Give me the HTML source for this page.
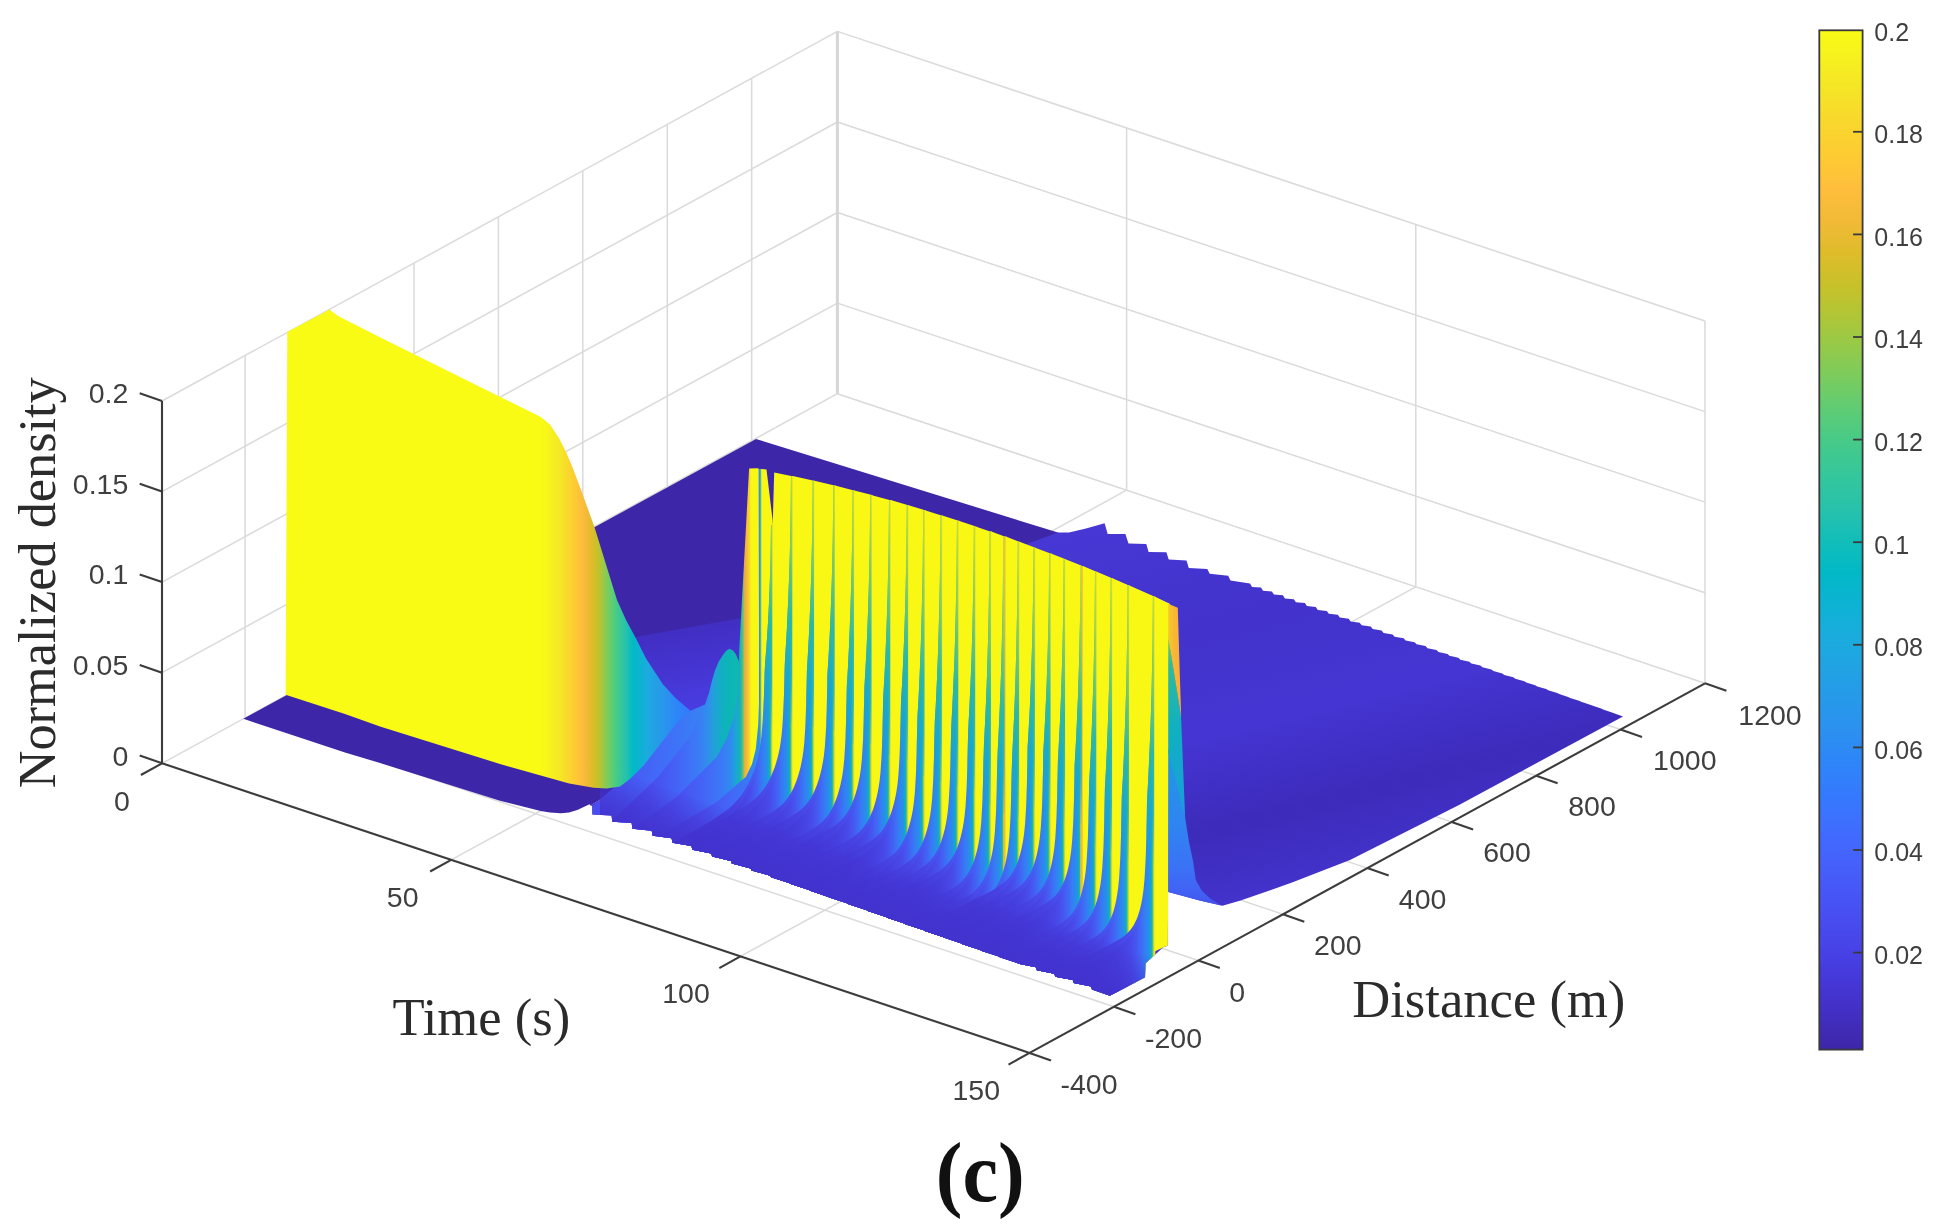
<!DOCTYPE html>
<html lang="en"><head><meta charset="utf-8"><title>Normalized density surface (c)</title>
<style>html,body{margin:0;padding:0;background:#fff}svg{display:block;filter:blur(0.45px)}</style></head>
<body>
<svg width="1948" height="1229" viewBox="0 0 1948 1229">
<defs><linearGradient id="cb" x1="0" y1="0" x2="0" y2="1"><stop offset="0%" stop-color="#f9fb15"/><stop offset="3.1%" stop-color="#f6ef20"/><stop offset="6.2%" stop-color="#f5e327"/><stop offset="9.4%" stop-color="#f9d62d"/><stop offset="12.5%" stop-color="#feca33"/><stop offset="15.6%" stop-color="#febe3c"/><stop offset="18.8%" stop-color="#f1ba37"/><stop offset="21.9%" stop-color="#debc2a"/><stop offset="25%" stop-color="#c8c129"/><stop offset="28.1%" stop-color="#afc637"/><stop offset="31.2%" stop-color="#94ca4a"/><stop offset="34.4%" stop-color="#77cc60"/><stop offset="37.5%" stop-color="#5ccc76"/><stop offset="40.6%" stop-color="#44ca8a"/><stop offset="43.8%" stop-color="#34c79c"/><stop offset="46.9%" stop-color="#28c2ab"/><stop offset="50%" stop-color="#12beb9"/><stop offset="53.1%" stop-color="#01b9c6"/><stop offset="56.2%" stop-color="#0cb3d3"/><stop offset="59.4%" stop-color="#1aacdd"/><stop offset="62.5%" stop-color="#21a3e3"/><stop offset="65.6%" stop-color="#269ae9"/><stop offset="68.8%" stop-color="#2c90f0"/><stop offset="71.9%" stop-color="#2e85f8"/><stop offset="75%" stop-color="#347afd"/><stop offset="78.1%" stop-color="#3f6efe"/><stop offset="81.2%" stop-color="#4562fc"/><stop offset="84.4%" stop-color="#4757f7"/><stop offset="87.5%" stop-color="#484cef"/><stop offset="90.6%" stop-color="#4741e5"/><stop offset="93.8%" stop-color="#4536d5"/><stop offset="96.9%" stop-color="#422ebf"/><stop offset="100%" stop-color="#3e26a8"/></linearGradient>
<linearGradient id="mid" gradientUnits="userSpaceOnUse" x1="690" y1="625" x2="705" y2="715"><stop offset="0" stop-color="#412ec2"/><stop offset="0.5" stop-color="#4535d2"/><stop offset="1" stop-color="#4a3fe6"/></linearGradient>
<linearGradient id="rg" gradientUnits="userSpaceOnUse" x1="1058" y1="532.5" x2="1155.5" y2="922.4"><stop offset="0" stop-color="#4737d4"/><stop offset="0.316" stop-color="#4333cc"/><stop offset="0.582" stop-color="#4535d2"/><stop offset="0.808" stop-color="#3d2bbb"/><stop offset="0.93" stop-color="#4030c4"/><stop offset="1" stop-color="#4333cc"/></linearGradient>
<linearGradient id="slab" gradientUnits="userSpaceOnUse" x1="287.6" y1="0" x2="700" y2="0"><stop offset="0.0000" stop-color="#f9fb15"/><stop offset="0.6145" stop-color="#f9fb15"/><stop offset="0.6298" stop-color="#f7f51b"/><stop offset="0.6452" stop-color="#f5ee21"/><stop offset="0.6605" stop-color="#f5e825"/><stop offset="0.6783" stop-color="#f8d92b"/><stop offset="0.6961" stop-color="#fdcb33"/><stop offset="0.7139" stop-color="#fdbd3d"/><stop offset="0.7256" stop-color="#f1ba37"/><stop offset="0.7373" stop-color="#e0bc2a"/><stop offset="0.7490" stop-color="#ccc028"/><stop offset="0.7574" stop-color="#b5c533"/><stop offset="0.7657" stop-color="#9cc944"/><stop offset="0.7740" stop-color="#81cc59"/><stop offset="0.7871" stop-color="#5ecd74"/><stop offset="0.8002" stop-color="#40ca8d"/><stop offset="0.8133" stop-color="#2fc5a2"/><stop offset="0.8218" stop-color="#24c1af"/><stop offset="0.8303" stop-color="#0fbebb"/><stop offset="0.8387" stop-color="#01b9c6"/><stop offset="0.8553" stop-color="#0cb3d3"/><stop offset="0.8719" stop-color="#1babde"/><stop offset="0.8885" stop-color="#22a1e4"/><stop offset="0.9050" stop-color="#269ae9"/><stop offset="0.9216" stop-color="#2b91ef"/><stop offset="0.9382" stop-color="#2d88f6"/><stop offset="0.9588" stop-color="#2f81fa"/><stop offset="0.9794" stop-color="#3579fd"/><stop offset="1" stop-color="#3d70ff"/></linearGradient>
<clipPath id="uf"><path d="M590.4 805.6 L592.2 806 L592.2 814.6 L611.5 815.5 L612.4 821.7 L631.6 823.1 L632.5 828.7 L651.7 830.7 L652.6 835.7 L671.6 838.3 L672.5 842.7 L691.5 845.9 L692.4 849.7 L711.3 853.4 L712.2 856.6 L731 860.9 L731.9 863.5 L750.7 868.4 L751.6 870.4 L770.2 875.8 L771.1 877.2 L789.7 883.2 L790.6 884 L809.1 890.1 L810 890.8 L828.4 896.9 L829.3 897.6 L847.7 903.6 L848.6 904.3 L866.9 910.3 L867.8 911 L886 917 L886.9 917.7 L905 923.7 L905.9 924.4 L923.9 930.3 L924.8 931 L942.8 936.9 L943.7 937.6 L961.6 943.5 L962.5 944.2 L980.3 950.1 L981.2 950.8 L999 956.6 L999.9 957.3 L1017.5 963.1 L1018.4 963.8 L1036 967.3 L1036.9 970.3 L1054.4 973.7 L1055.3 976.7 L1072.8 980.1 L1073.7 983.1 L1091.1 986.5 L1092 989.5 L1109.9 995.8 L1145 977.6 L1145.7 963.3 L1163.3 947.2 L1167.8 945.7 L1169 760 L1171 600 L1180 600 L1180 420 L560 420 L560 700Z"/></clipPath>
<linearGradient id="tv" gradientUnits="userSpaceOnUse" x1="0" y1="-330" x2="0" y2="-62"><stop offset="0" stop-color="#c8dc3a" stop-opacity="0.7"/><stop offset="0.3" stop-color="#86cc60" stop-opacity="0.88"/><stop offset="0.58" stop-color="#2cb8a4" stop-opacity="1"/><stop offset="0.8" stop-color="#18aac8" stop-opacity="0.75"/><stop offset="1" stop-color="#1c9edc" stop-opacity="0"/></linearGradient>
<linearGradient id="tov" gradientUnits="userSpaceOnUse" x1="-125" y1="0" x2="-9" y2="0"><stop offset="0" stop-color="#4233cf" stop-opacity="0.6"/><stop offset="0.6" stop-color="#4335d4" stop-opacity="0.55"/><stop offset="0.86" stop-color="#4438d8" stop-opacity="0.3"/><stop offset="1" stop-color="#4438d8" stop-opacity="0"/></linearGradient>
<linearGradient id="tg" gradientUnits="userSpaceOnUse" x1="-125" y1="0" x2="1.6" y2="0"><stop offset="0.0000" stop-color="#4334d2"/><stop offset="0.5134" stop-color="#4438d8"/><stop offset="0.7030" stop-color="#4742e2"/><stop offset="0.8136" stop-color="#4952f0"/><stop offset="0.8689" stop-color="#4366f8"/><stop offset="0.9005" stop-color="#3a76f6"/><stop offset="0.9321" stop-color="#2e86f0"/><stop offset="0.9518" stop-color="#2592e8"/><stop offset="0.9629" stop-color="#16a4d0"/><stop offset="0.9708" stop-color="#12b2b6"/><stop offset="0.9779" stop-color="#45c088"/><stop offset="0.9842" stop-color="#a8d048"/><stop offset="0.9921" stop-color="#ecdf25"/><stop offset="1.0000" stop-color="#f9f814"/></linearGradient>
<linearGradient id="tgo" gradientUnits="userSpaceOnUse" x1="-125" y1="0" x2="2.4" y2="0"><stop offset="0.0000" stop-color="#4334d2"/><stop offset="0.5102" stop-color="#4438d8"/><stop offset="0.6986" stop-color="#4742e2"/><stop offset="0.8085" stop-color="#4952f0"/><stop offset="0.8634" stop-color="#4366f8"/><stop offset="0.8948" stop-color="#3a76f6"/><stop offset="0.9262" stop-color="#2e86f0"/><stop offset="0.9458" stop-color="#2592e8"/><stop offset="0.9568" stop-color="#16a4d0"/><stop offset="0.9647" stop-color="#12b2b6"/><stop offset="0.9717" stop-color="#45c088"/><stop offset="0.9686" stop-color="#90c860"/><stop offset="0.9788" stop-color="#e8b840"/><stop offset="0.9882" stop-color="#f4c030"/><stop offset="1.0000" stop-color="#f9f814"/></linearGradient>
<linearGradient id="ga" gradientUnits="userSpaceOnUse" x1="600" y1="0" x2="706" y2="0"><stop offset="0.0000" stop-color="#4a4cee"/><stop offset="0.3774" stop-color="#4560f6"/><stop offset="0.6604" stop-color="#3f70f8"/><stop offset="0.8679" stop-color="#3a7cf6"/><stop offset="1.0000" stop-color="#3585f2"/></linearGradient>
<linearGradient id="gb" gradientUnits="userSpaceOnUse" x1="611" y1="0" x2="742" y2="0"><stop offset="0.0000" stop-color="#4538d8"/><stop offset="0.2977" stop-color="#4a4cee"/><stop offset="0.5267" stop-color="#4366f8"/><stop offset="0.6565" stop-color="#3b7af6"/><stop offset="0.7252" stop-color="#3389f0"/><stop offset="0.7863" stop-color="#22a0da"/><stop offset="0.8473" stop-color="#10b0c0"/><stop offset="0.9084" stop-color="#0cb6b6"/><stop offset="1.0000" stop-color="#12b6b0"/></linearGradient>
<linearGradient id="gc" gradientUnits="userSpaceOnUse" x1="631" y1="0" x2="751" y2="0"><stop offset="0.0000" stop-color="#4538d8"/><stop offset="0.3667" stop-color="#4a4cee"/><stop offset="0.6167" stop-color="#4366f8"/><stop offset="0.7583" stop-color="#3b7af6"/><stop offset="0.8333" stop-color="#2e8cee"/><stop offset="0.8750" stop-color="#1ca6d6"/><stop offset="0.9083" stop-color="#14b2b4"/><stop offset="0.9292" stop-color="#50c080"/><stop offset="0.9458" stop-color="#e0b040"/><stop offset="0.9625" stop-color="#f8b836"/><stop offset="0.9875" stop-color="#f4d828"/><stop offset="1.0000" stop-color="#f9f814"/></linearGradient>
<linearGradient id="gd" gradientUnits="userSpaceOnUse" x1="652" y1="0" x2="761.8" y2="0"><stop offset="0.0000" stop-color="#4538d8"/><stop offset="0.4372" stop-color="#4a4cee"/><stop offset="0.7104" stop-color="#4366f8"/><stop offset="0.8743" stop-color="#3878f6"/><stop offset="0.9381" stop-color="#2e8cee"/><stop offset="0.9772" stop-color="#2a90ec"/><stop offset="0.9891" stop-color="#58b8a0"/><stop offset="1.0000" stop-color="#f9f814"/></linearGradient>
<linearGradient id="fd" gradientUnits="userSpaceOnUse" x1="817.2" y1="838.2" x2="800" y2="887.3"><stop offset="0" stop-color="#4233cf" stop-opacity="0"/><stop offset="0.55" stop-color="#4233cf" stop-opacity="0.55"/><stop offset="1" stop-color="#4232cd" stop-opacity="0.9"/></linearGradient>
<linearGradient id="wo" gradientUnits="userSpaceOnUse" x1="1168" y1="0" x2="1179" y2="0"><stop offset="0" stop-color="#f5cc2a"/><stop offset="0.5" stop-color="#f8b832"/><stop offset="1" stop-color="#f9b034"/></linearGradient>
<linearGradient id="wt" gradientUnits="userSpaceOnUse" x1="0" y1="638" x2="0" y2="818"><stop offset="0" stop-color="#86ca5c"/><stop offset="0.14" stop-color="#34b99c"/><stop offset="0.5" stop-color="#10b0c0"/><stop offset="0.8" stop-color="#16a4d2"/><stop offset="1" stop-color="#1e9ae0"/></linearGradient>
<linearGradient id="wb" gradientUnits="userSpaceOnUse" x1="0" y1="751" x2="0" y2="906"><stop offset="0" stop-color="#2098e2"/><stop offset="0.45" stop-color="#2e86f0"/><stop offset="0.75" stop-color="#3b72f6"/><stop offset="0.92" stop-color="#4260f4"/><stop offset="1" stop-color="#4550ea"/></linearGradient></defs>
<rect width="1948" height="1229" fill="#fff"/>
<g stroke="#dadada" stroke-width="1.5" fill="none"><line x1="245.1" y1="717.7" x2="245.1" y2="355.4"/><line x1="329.6" y1="671.5" x2="329.6" y2="309.2"/><line x1="414" y1="625.3" x2="414" y2="263"/><line x1="498.4" y1="579.1" x2="498.4" y2="216.8"/><line x1="582.8" y1="532.9" x2="582.8" y2="170.6"/><line x1="667.3" y1="486.7" x2="667.3" y2="124.4"/><line x1="751.7" y1="440.5" x2="751.7" y2="78.2"/><line x1="162" y1="763.3" x2="837.4" y2="393.7"/><line x1="162" y1="672.7" x2="837.4" y2="303.1"/><line x1="162" y1="582.1" x2="837.4" y2="212.5"/><line x1="162" y1="491.6" x2="837.4" y2="122"/><line x1="162" y1="401" x2="837.4" y2="31.4"/><line x1="1126.6" y1="490.2" x2="1126.6" y2="127.9"/><line x1="1415.8" y1="586.8" x2="1415.8" y2="224.5"/><line x1="1705" y1="683.3" x2="1705" y2="321"/><line x1="837.4" y1="393.7" x2="1705" y2="683.3"/><line x1="837.4" y1="303.1" x2="1705" y2="592.7"/><line x1="837.4" y1="212.5" x2="1705" y2="502.1"/><line x1="837.4" y1="122" x2="1705" y2="411.6"/><line x1="837.4" y1="31.4" x2="1705" y2="321"/><line x1="246.4" y1="717.1" x2="1114" y2="1006.7"/><line x1="330.9" y1="670.9" x2="1198.4" y2="960.5"/><line x1="415.3" y1="624.7" x2="1282.9" y2="914.3"/><line x1="499.7" y1="578.5" x2="1367.3" y2="868.1"/><line x1="584.1" y1="532.3" x2="1451.7" y2="821.9"/><line x1="668.6" y1="486.1" x2="1536.2" y2="775.7"/><line x1="753" y1="439.9" x2="1620.6" y2="729.5"/><line x1="451.2" y1="859.8" x2="1126.6" y2="490.2"/><line x1="740.4" y1="956.4" x2="1415.8" y2="586.8"/></g>
<line x1="837.4" y1="393.7" x2="837.4" y2="31.4" stroke="#d6d6d6" stroke-width="3"/>
<path d="M243.3 718.8 L756 439 L1058 532.5 L1069 545 L1069 700 L800 800 L622.7 786 L590.4 805.6 L589.5 804.3 L577.3 810 L569 812.4 L561 813.3 L550 812.6 L540.7 810.9 L500 800.7 L380 763 L345 752.5Z" fill="#3e26a8"/>
<path d="M633 637.6 L739.8 618.2 L760 640 L760 760 L690 760 L640 700Z" fill="url(#mid)"/>
<path d="M1024 545 L1058 532.5 L1069 532.5 L1086 528.5 L1104.6 523.3 L1107.7 534.1 L1125.4 534.1 L1128.5 543.4 L1146.3 544.1 L1148.6 551.9 L1166.4 552.3 L1168.7 559.6 L1186.5 560.4 L1188.8 568.1 L1207.3 568.9 L1209.7 573.7 L1228.2 575.8 L1230.5 580.5 L1250 583.6 L1252 586.9 L1261 587.5 L1263 590.7 L1271.9 591.4 L1273.9 594.6 L1282.9 595.3 L1284.9 598.4 L1293.9 599.2 L1295.9 602.2 L1304.9 603.1 L1306.9 606 L1315.8 607 L1317.8 609.9 L1326.8 610.9 L1328.8 613.7 L1337.8 614.8 L1339.8 617.5 L1348.7 618.8 L1350.7 621.4 L1359.7 622.7 L1361.7 625.2 L1370.7 626.6 L1372.7 629 L1381.6 630.5 L1383.6 632.9 L1392.6 634.4 L1394.6 636.7 L1403.6 638.3 L1405.6 640.5 L1414.6 642.2 L1416.6 644.3 L1425.5 646.1 L1427.5 648.2 L1436.5 650 L1438.5 652 L1447.5 653.9 L1449.5 655.8 L1458.4 657.8 L1460.4 659.7 L1469.4 661.7 L1471.4 663.5 L1480.4 665.6 L1482.4 667.3 L1491.4 669.5 L1493.4 671.1 L1502.3 673.4 L1504.3 675 L1513.3 677.3 L1515.3 678.8 L1524.3 681.2 L1526.3 682.6 L1535.2 685.2 L1537.2 686.5 L1546.2 689.1 L1548.2 690.3 L1557.2 693 L1559.2 694.1 L1568.1 696.9 L1570.1 698 L1579.1 700.8 L1581.1 701.8 L1590.1 704.7 L1592.1 705.6 L1601.1 708.6 L1603.1 709.4 L1612 712.5 L1614 713.3 L1623 716.4 L1459 805 L1350 860 L1292.7 882.3 L1271 890 L1240.6 900.5 L1222.4 905.7 L1199.7 900.5 L1168.4 892 L1168.4 700 L1169.8 608.5 L1169.8 604.1 L1145.8 593.2 L1121.8 582.8 L1097.8 572.7 L1073.8 562.9 L1049.8 553.6 L1025.8 544.6Z" fill="url(#rg)"/>
<g clip-path="url(#uf)"><path d="M590.4 805.6 L622.7 786 L643.7 765.6 L664.3 739 L680.7 718.4 L690.3 710.7 L705 704.5 L745 700 L1168.4 892 L1168 960 L1110 1000 L592 830Z" fill="#4334d2"/><path d="M592.2 806 L628.8 775 L658 740 L677.7 716 L690.3 710.7 L705 704.5 L720 760 L700 900 L596 900Z" fill="url(#ga)"/><path d="M611 822 L658 777 L689 738 L700 716 L705 704.5 L709 692.7 L711.6 682 L714.8 671 L718.5 662 L722.6 655.6 L726 651 L729.4 648.8 L733 650.5 L736 654.6 L739 661.5 L742 668 L746 700 L746 900 L611 900Z" fill="url(#gb)"/><path d="M631.8 830 L677.7 796 L716.7 757 L727 738 L734.3 716 L737.3 695 L738.6 672 L739.2 650 L740.3 630 L744.8 548 L749.1 468.6 L757.6 468.3 L759 469 L759 900 L631.8 900Z" fill="url(#gc)"/><path d="M652 840 L716.7 802 L746 776.7 L752 764 L755.8 749 L758.2 725 L759.2 698 L758.9 600 L758.6 468.8 L761.8 468.9 L766.5 469.4 L768.5 486 L772.6 520 L773.6 540 L773.6 900 L652 900Z" fill="url(#gd)"/><g transform="translate(771.80,799.4)"><path d="M-0.8 -274.4 L-1.2 -245.5 L-1.9 -220.5 L-2.7 -198.9 L-3.6 -180.2 L-4.6 -164 L-5.6 -149.9 L-6.6 -137.6 L-7.2 -126.9 L-7.4 -117.6 L-7.7 -109.4 L-7.9 -102.2 L-8.2 -95.9 L-9.2 -77.1 L-10.2 -64.9 L-11.2 -56.4 L-12.2 -50.1 L-13.2 -45.1 L-14.2 -40.8 L-15.2 -37.1 L-16.2 -33.7 L-17.2 -30.7 L-20.2 -22.7 L-23.2 -16.1 L-26.2 -10.6 L-29.2 -5.9 L-32.2 -1.9 L-35.2 1.7 L-38.2 4.8 L-41.2 7.6 L-44.2 10.1 L-47.2 12.4 L-59.2 20.5 L-71.2 27.5 L-83.2 34.1 L-95.2 40.5 L-107.2 46.9 L-119.2 53.3 L-131.2 59.6 L-143.2 65.9 L-155.2 72.3 L-150 260 L1.6 260 L1.6 -274.4Z" fill="url(#tg)"/><path d="M-0.8 -274.4 L-1.2 -245.5 L-1.9 -220.5 L-2.7 -198.9 L-3.6 -180.2 L-4.6 -164 L-5.6 -149.9 L-6.6 -137.6 L-7.2 -126.9 L-7.4 -117.6 L-7.7 -109.4 L-7.9 -102.2 L-8.2 -95.9 L-9.2 -77.1 L-10.2 -64.9 L0.5 -64.9 L0.5 -274.4Z" fill="url(#tv)"/><path d="M-9 -33.6 L-9.2 -73.6 L-10.2 -61.2 L-11.2 -52.6 L-12.2 -46.2 L-13.2 -41 L-14.2 -36.6 L-15.2 -32.7 L-16.2 -29.1 L-17.2 -25.9 L-20.2 -17.4 L-23.2 -10.4 L-26.2 -4.4 L-29.2 0.8 L-32.2 5.3 L-35.2 9.3 L-38.2 12.9 L-41.2 16.2 L-44.2 19.1 L-47.2 21.4 L-59.2 29.5 L-71.2 36.5 L-83.2 43.1 L-95.2 49.5 L-107.2 55.9 L-119.2 62.3 L-131.2 68.6 L-143.2 74.9 L-155.2 81.3 L-150 260 L-9 260Z" fill="url(#tov)"/><path d="M0.9 -274.4 L2.4 -326.9 L19.5 -323.5 L19.5 260 L0.9 260Z" fill="#f9f814"/></g><g transform="translate(791.80,793)"><path d="M-0.8 -317.1 L-1.3 -276.2 L-1.9 -241.8 L-2.8 -213 L-3.8 -188.6 L-4.7 -168 L-5.7 -150.7 L-6.7 -135.9 L-7.2 -123.4 L-7.4 -112.8 L-7.7 -103.6 L-7.9 -95.8 L-8.2 -89.1 L-9.2 -69.8 L-10.2 -58.1 L-11.2 -50.2 L-12.2 -44.3 L-13.2 -39.6 L-14.2 -35.5 L-15.2 -31.9 L-16.2 -28.6 L-17.2 -25.6 L-20.2 -17.9 L-23.2 -11.7 L-26.2 -6.6 L-29.2 -2.3 L-32.2 1.3 L-35.2 4.4 L-38.2 7.1 L-41.2 9.5 L-44.2 11.7 L-47.2 13.7 L-59.2 20.8 L-71.2 27.1 L-83.2 33.2 L-95.2 39.1 L-107.2 45 L-119.2 50.9 L-131.2 56.8 L-143.2 62.7 L-155.2 68.6 L-150 260 L1.6 260 L1.6 -317.1Z" fill="url(#tg)"/><path d="M-0.8 -317.1 L-1.3 -276.2 L-1.9 -241.8 L-2.8 -213 L-3.8 -188.6 L-4.7 -168 L-5.7 -150.7 L-6.7 -135.9 L-7.2 -123.4 L-7.4 -112.8 L-7.7 -103.6 L-7.9 -95.8 L-8.2 -89.1 L-9.2 -69.8 L0.5 -69.8 L0.5 -317.1Z" fill="url(#tv)"/><path d="M-9 -26.4 L-9.2 -66.4 L-10.2 -54.5 L-11.2 -46.4 L-12.2 -40.4 L-13.2 -35.5 L-14.2 -31.2 L-15.2 -27.5 L-16.2 -24 L-17.2 -20.9 L-20.2 -12.7 L-23.2 -6 L-26.2 -0.4 L-29.2 4.3 L-32.2 8.4 L-35.2 12 L-38.2 15.2 L-41.2 18.1 L-44.2 20.7 L-47.2 22.7 L-59.2 29.8 L-71.2 36.1 L-83.2 42.2 L-95.2 48.1 L-107.2 54 L-119.2 59.9 L-131.2 65.8 L-143.2 71.7 L-155.2 77.6 L-150 260 L-9 260Z" fill="url(#tov)"/><path d="M0.9 -317.1 L22.2 -312.2 L22.2 260 L0.9 260Z" fill="#f9f814"/></g><g transform="translate(813.50,800.6)"><path d="M-0.8 -319.9 L-1.3 -269 L-2.2 -228.1 L-3.3 -195.1 L-4.4 -168.5 L-5.6 -146.9 L-6.6 -129.4 L-6.9 -115.1 L-7.2 -103.4 L-7.4 -93.8 L-7.7 -85.8 L-7.9 -79.1 L-8.2 -73.5 L-9.2 -58.1 L-10.2 -48.8 L-11.2 -42.3 L-12.2 -37.1 L-13.2 -32.7 L-14.2 -28.9 L-15.2 -25.4 L-16.2 -22.3 L-17.2 -19.4 L-20.2 -12.1 L-23.2 -6.5 L-26.2 -2 L-29.2 1.6 L-32.2 4.7 L-35.2 7.2 L-38.2 9.5 L-41.2 11.5 L-44.2 13.3 L-47.2 15 L-59.2 21 L-71.2 26.6 L-83.2 32.1 L-95.2 37.5 L-107.2 42.9 L-119.2 48.3 L-131.2 53.7 L-143.2 59.1 L-155.2 64.5 L-150 260 L1.6 260 L1.6 -319.9Z" fill="url(#tg)"/><path d="M-0.8 -319.9 L-1.3 -269 L-2.2 -228.1 L-3.3 -195.1 L-4.4 -168.5 L-5.6 -146.9 L-6.6 -129.4 L-6.9 -115.1 L-7.2 -103.4 L-7.4 -93.8 L-7.7 -85.8 L-7.9 -79.1 L-8.2 -73.5 L0.5 -73.5 L0.5 -319.9Z" fill="url(#tv)"/><path d="M-9 -14.6 L-9.2 -54.6 L-10.2 -45.2 L-11.2 -38.5 L-12.2 -33.2 L-13.2 -28.6 L-14.2 -24.6 L-15.2 -21 L-16.2 -17.7 L-17.2 -14.6 L-20.2 -6.9 L-23.2 -0.8 L-26.2 4.2 L-29.2 8.3 L-32.2 11.8 L-35.2 14.9 L-38.2 17.6 L-41.2 20.1 L-44.2 22.3 L-47.2 24 L-59.2 30 L-71.2 35.6 L-83.2 41.1 L-95.2 46.5 L-107.2 51.9 L-119.2 57.3 L-131.2 62.7 L-143.2 68.1 L-155.2 73.5 L-150 260 L-9 260Z" fill="url(#tov)"/><path d="M0.9 -319.9 L21 -315 L21 260 L0.9 260Z" fill="#f9f814"/></g><g transform="translate(834.10,803.8)"><path d="M-0.8 -318.2 L-1.3 -267.6 L-2.2 -226.9 L-3.3 -194.1 L-4.4 -167.7 L-5.6 -146.2 L-6.7 -128.8 L-6.9 -114.5 L-7.2 -102.9 L-7.4 -93.3 L-7.7 -85.3 L-7.9 -78.6 L-8.2 -73 L-9.2 -57.6 L-10.2 -48.3 L-11.2 -41.7 L-12.2 -36.6 L-13.2 -32.2 L-14.2 -28.3 L-15.2 -24.8 L-16.2 -21.7 L-17.2 -18.8 L-20.2 -11.6 L-23.2 -6 L-26.2 -1.6 L-29.2 2 L-32.2 5 L-35.2 7.5 L-38.2 9.7 L-41.2 11.7 L-44.2 13.5 L-47.2 15.2 L-59.2 21.2 L-71.2 26.8 L-83.2 32.3 L-95.2 37.8 L-107.2 43.2 L-119.2 48.6 L-131.2 54.1 L-143.2 59.5 L-155.2 65 L-150 260 L1.6 260 L1.6 -318.2Z" fill="url(#tg)"/><path d="M-0.8 -318.2 L-1.3 -267.6 L-2.2 -226.9 L-3.3 -194.1 L-4.4 -167.7 L-5.6 -146.2 L-6.7 -128.8 L-6.9 -114.5 L-7.2 -102.9 L-7.4 -93.3 L-7.7 -85.3 L-7.9 -78.6 L-8.2 -73 L0.5 -73 L0.5 -318.2Z" fill="url(#tv)"/><path d="M-9 -14.1 L-9.2 -54.1 L-10.2 -44.7 L-11.2 -38 L-12.2 -32.6 L-13.2 -28.1 L-14.2 -24 L-15.2 -20.4 L-16.2 -17.1 L-17.2 -14.1 L-20.2 -6.4 L-23.2 -0.3 L-26.2 4.6 L-29.2 8.7 L-32.2 12.1 L-35.2 15.1 L-38.2 17.8 L-41.2 20.3 L-44.2 22.5 L-47.2 24.2 L-59.2 30.2 L-71.2 35.8 L-83.2 41.3 L-95.2 46.8 L-107.2 52.2 L-119.2 57.6 L-131.2 63.1 L-143.2 68.5 L-155.2 74 L-150 260 L-9 260Z" fill="url(#tov)"/><path d="M0.9 -318.2 L19.8 -313.3 L19.8 260 L0.9 260Z" fill="#f9f814"/></g><g transform="translate(853.40,817.4)"><path d="M-0.8 -327 L-1.3 -274.6 L-2.2 -232.5 L-3.3 -198.5 L-4.4 -171.1 L-5.5 -148.9 L-6.6 -130.8 L-6.9 -116.1 L-7.2 -104.1 L-7.4 -94.1 L-7.7 -85.9 L-7.9 -79 L-8.2 -73.3 L-9.2 -57.4 L-10.2 -47.9 L-11.2 -41.3 L-12.2 -36.1 L-13.2 -31.6 L-14.2 -27.8 L-15.2 -24.3 L-16.2 -21.1 L-17.2 -18.3 L-20.2 -11.1 L-23.2 -5.6 L-26.2 -1.2 L-29.2 2.4 L-32.2 5.3 L-35.2 7.8 L-38.2 10 L-41.2 11.9 L-44.2 13.7 L-47.2 15.4 L-59.2 21.4 L-71.2 27 L-83.2 32.5 L-95.2 38 L-107.2 43.5 L-119.2 49 L-131.2 54.4 L-143.2 59.9 L-155.2 65.4 L-150 260 L1.6 260 L1.6 -327Z" fill="url(#tg)"/><path d="M-0.8 -327 L-1.3 -274.6 L-2.2 -232.5 L-3.3 -198.5 L-4.4 -171.1 L-5.5 -148.9 L-6.6 -130.8 L-6.9 -116.1 L-7.2 -104.1 L-7.4 -94.1 L-7.7 -85.9 L-7.9 -79 L-8.2 -73.3 L0.5 -73.3 L0.5 -327Z" fill="url(#tv)"/><path d="M-9 -13.9 L-9.2 -53.9 L-10.2 -44.3 L-11.2 -37.5 L-12.2 -32.1 L-13.2 -27.5 L-14.2 -23.5 L-15.2 -19.9 L-16.2 -16.5 L-17.2 -13.5 L-20.2 -5.9 L-23.2 0.1 L-26.2 5 L-29.2 9 L-32.2 12.4 L-35.2 15.4 L-38.2 18.1 L-41.2 20.5 L-44.2 22.7 L-47.2 24.4 L-59.2 30.4 L-71.2 36 L-83.2 41.5 L-95.2 47 L-107.2 52.5 L-119.2 58 L-131.2 63.4 L-143.2 68.9 L-155.2 74.4 L-150 260 L-9 260Z" fill="url(#tov)"/><path d="M0.9 -327 L18.7 -322.3 L18.7 260 L0.9 260Z" fill="#f9f814"/></g><g transform="translate(871.00,816.7)"><path d="M-0.8 -321.5 L-1.3 -270.2 L-2.2 -228.9 L-3.3 -195.6 L-4.4 -168.7 L-5.6 -147 L-6.6 -129.2 L-6.9 -114.8 L-7.2 -102.9 L-7.4 -93.2 L-7.7 -85 L-7.9 -78.3 L-8.2 -72.6 L-9.2 -56.9 L-10.2 -47.4 L-11.2 -40.8 L-12.2 -35.6 L-13.2 -31.1 L-14.2 -27.2 L-15.2 -23.8 L-16.2 -20.6 L-17.2 -17.8 L-20.2 -10.6 L-23.2 -5.1 L-26.2 -0.8 L-29.2 2.7 L-32.2 5.6 L-35.2 8 L-38.2 10.2 L-41.2 12.1 L-44.2 13.9 L-47.2 15.5 L-59.2 21.6 L-71.2 27.2 L-83.2 32.8 L-95.2 38.3 L-107.2 43.8 L-119.2 49.3 L-131.2 54.8 L-143.2 60.3 L-155.2 65.8 L-150 260 L1.6 260 L1.6 -321.5Z" fill="url(#tg)"/><path d="M-0.8 -321.5 L-1.3 -270.2 L-2.2 -228.9 L-3.3 -195.6 L-4.4 -168.7 L-5.6 -147 L-6.6 -129.2 L-6.9 -114.8 L-7.2 -102.9 L-7.4 -93.2 L-7.7 -85 L-7.9 -78.3 L-8.2 -72.6 L0.5 -72.6 L0.5 -321.5Z" fill="url(#tv)"/><path d="M-9 -13.4 L-9.2 -53.4 L-10.2 -43.8 L-11.2 -37 L-12.2 -31.6 L-13.2 -27 L-14.2 -23 L-15.2 -19.3 L-16.2 -16 L-17.2 -13 L-20.2 -5.4 L-23.2 0.6 L-26.2 5.4 L-29.2 9.3 L-32.2 12.7 L-35.2 15.7 L-38.2 18.3 L-41.2 20.7 L-44.2 22.9 L-47.2 24.5 L-59.2 30.6 L-71.2 36.2 L-83.2 41.8 L-95.2 47.3 L-107.2 52.8 L-119.2 58.3 L-131.2 63.8 L-143.2 69.3 L-155.2 74.8 L-150 260 L-9 260Z" fill="url(#tov)"/><path d="M0.9 -321.5 L18.5 -316.6 L18.5 260 L0.9 260Z" fill="#f9f814"/></g><g transform="translate(889.80,827.8)"><path d="M-0.8 -327.8 L-1.3 -275.1 L-2.2 -232.8 L-3.3 -198.7 L-4.4 -171.1 L-5.5 -148.8 L-6.6 -130.6 L-6.9 -115.8 L-7.2 -103.7 L-7.4 -93.7 L-7.7 -85.4 L-7.9 -78.5 L-8.2 -72.6 L-9.2 -56.6 L-10.2 -47 L-11.2 -40.3 L-12.2 -35.1 L-13.2 -30.6 L-14.2 -26.7 L-15.2 -23.2 L-16.2 -20.1 L-17.2 -17.3 L-20.2 -10.2 L-23.2 -4.7 L-26.2 -0.5 L-29.2 3 L-32.2 5.8 L-35.2 8.3 L-38.2 10.4 L-41.2 12.3 L-44.2 14.1 L-47.2 15.7 L-59.2 21.7 L-71.2 27.4 L-83.2 33 L-95.2 38.5 L-107.2 44 L-119.2 49.6 L-131.2 55.1 L-143.2 60.6 L-155.2 66.2 L-150 260 L1.6 260 L1.6 -327.8Z" fill="url(#tg)"/><path d="M-0.8 -327.8 L-1.3 -275.1 L-2.2 -232.8 L-3.3 -198.7 L-4.4 -171.1 L-5.5 -148.8 L-6.6 -130.6 L-6.9 -115.8 L-7.2 -103.7 L-7.4 -93.7 L-7.7 -85.4 L-7.9 -78.5 L-8.2 -72.6 L0.5 -72.6 L0.5 -327.8Z" fill="url(#tv)"/><path d="M-9 -13.2 L-9.2 -53.2 L-10.2 -43.4 L-11.2 -36.5 L-12.2 -31.1 L-13.2 -26.5 L-14.2 -22.4 L-15.2 -18.8 L-16.2 -15.5 L-17.2 -12.5 L-20.2 -4.9 L-23.2 1 L-26.2 5.7 L-29.2 9.7 L-32.2 13 L-35.2 15.9 L-38.2 18.5 L-41.2 20.9 L-44.2 23.1 L-47.2 24.7 L-59.2 30.7 L-71.2 36.4 L-83.2 42 L-95.2 47.5 L-107.2 53 L-119.2 58.6 L-131.2 64.1 L-143.2 69.6 L-155.2 75.2 L-150 260 L-9 260Z" fill="url(#tov)"/><path d="M0.9 -327.8 L18.5 -322.6 L18.5 260 L0.9 260Z" fill="#f9f814"/></g><g transform="translate(907.60,831.5)"><path d="M-0.8 -326.3 L-1.3 -273.9 L-2.2 -231.8 L-3.3 -197.8 L-4.4 -170.4 L-5.5 -148.1 L-6.6 -130.1 L-6.9 -115.3 L-7.2 -103.2 L-7.4 -93.2 L-7.7 -84.9 L-7.9 -78 L-8.2 -72.2 L-9.2 -56.2 L-10.2 -46.6 L-11.2 -39.8 L-12.2 -34.5 L-13.2 -30.1 L-14.2 -26.2 L-15.2 -22.7 L-16.2 -19.6 L-17.2 -16.7 L-20.2 -9.7 L-23.2 -4.3 L-26.2 -0.1 L-29.2 3.3 L-32.2 6.1 L-35.2 8.5 L-38.2 10.6 L-41.2 12.5 L-44.2 14.2 L-47.2 15.9 L-59.2 21.9 L-71.2 27.6 L-83.2 33.2 L-95.2 38.7 L-107.2 44.3 L-119.2 49.9 L-131.2 55.4 L-143.2 61 L-155.2 66.6 L-150 260 L1.6 260 L1.6 -326.3Z" fill="url(#tg)"/><path d="M-0.8 -326.3 L-1.3 -273.9 L-2.2 -231.8 L-3.3 -197.8 L-4.4 -170.4 L-5.5 -148.1 L-6.6 -130.1 L-6.9 -115.3 L-7.2 -103.2 L-7.4 -93.2 L-7.7 -84.9 L-7.9 -78 L-8.2 -72.2 L0.5 -72.2 L0.5 -326.3Z" fill="url(#tv)"/><path d="M-9 -12.7 L-9.2 -52.7 L-10.2 -42.9 L-11.2 -36 L-12.2 -30.6 L-13.2 -26 L-14.2 -21.9 L-15.2 -18.3 L-16.2 -15 L-17.2 -12 L-20.2 -4.5 L-23.2 1.4 L-26.2 6.1 L-29.2 10 L-32.2 13.3 L-35.2 16.1 L-38.2 18.7 L-41.2 21.1 L-44.2 23.2 L-47.2 24.9 L-59.2 30.9 L-71.2 36.6 L-83.2 42.2 L-95.2 47.7 L-107.2 53.3 L-119.2 58.9 L-131.2 64.4 L-143.2 70 L-155.2 75.6 L-150 260 L-9 260Z" fill="url(#tov)"/><path d="M0.9 -326.3 L17.5 -321.3 L17.5 260 L0.9 260Z" fill="#f9f814"/></g><g transform="translate(924.00,849.3)"><path d="M-0.8 -339 L-1.3 -284 L-2.2 -239.8 L-3.2 -204.2 L-4.3 -175.4 L-5.4 -152.1 L-6.5 -133.1 L-6.9 -117.7 L-7.2 -105 L-7.4 -94.6 L-7.7 -85.9 L-7.9 -78.7 L-8.2 -72.7 L-9.2 -56.1 L-10.2 -46.2 L-11.2 -39.4 L-12.2 -34.1 L-13.2 -29.6 L-14.2 -25.7 L-15.2 -22.2 L-16.2 -19.1 L-17.2 -16.2 L-20.2 -9.3 L-23.2 -3.9 L-26.2 0.2 L-29.2 3.6 L-32.2 6.3 L-35.2 8.7 L-38.2 10.8 L-41.2 12.7 L-44.2 14.4 L-47.2 16 L-59.2 22 L-71.2 27.7 L-83.2 33.4 L-95.2 39 L-107.2 44.6 L-119.2 50.2 L-131.2 55.8 L-143.2 61.3 L-155.2 66.9 L-150 260 L1.6 260 L1.6 -339Z" fill="url(#tg)"/><path d="M-0.8 -339 L-1.3 -284 L-2.2 -239.8 L-3.2 -204.2 L-4.3 -175.4 L-5.4 -152.1 L-6.5 -133.1 L-6.9 -117.7 L-7.2 -105 L-7.4 -94.6 L-7.7 -85.9 L-7.9 -78.7 L-8.2 -72.7 L0.5 -72.7 L0.5 -339Z" fill="url(#tv)"/><path d="M-9 -12.6 L-9.2 -52.6 L-10.2 -42.6 L-11.2 -35.6 L-12.2 -30.1 L-13.2 -25.5 L-14.2 -21.4 L-15.2 -17.8 L-16.2 -14.5 L-17.2 -11.5 L-20.2 -4 L-23.2 1.8 L-26.2 6.4 L-29.2 10.3 L-32.2 13.5 L-35.2 16.3 L-38.2 18.9 L-41.2 21.3 L-44.2 23.4 L-47.2 25 L-59.2 31 L-71.2 36.7 L-83.2 42.4 L-95.2 48 L-107.2 53.6 L-119.2 59.2 L-131.2 64.8 L-143.2 70.3 L-155.2 75.9 L-150 260 L-9 260Z" fill="url(#tov)"/><path d="M0.9 -339 L17.5 -333.8 L17.5 260 L0.9 260Z" fill="#f9f814"/></g><g transform="translate(941.30,854.5)"><path d="M-0.8 -339.1 L-1.3 -284 L-2.2 -239.8 L-3.2 -204.1 L-4.3 -175.3 L-5.4 -151.9 L-6.5 -132.9 L-6.9 -117.4 L-7.2 -104.8 L-7.4 -94.3 L-7.7 -85.6 L-7.9 -78.4 L-8.2 -72.4 L-9.2 -55.7 L-10.2 -45.8 L-11.2 -38.9 L-12.2 -33.5 L-13.2 -29 L-14.2 -25.1 L-15.2 -21.7 L-16.2 -18.6 L-17.2 -15.8 L-20.2 -8.8 L-23.2 -3.5 L-26.2 0.6 L-29.2 3.9 L-32.2 6.6 L-35.2 8.9 L-38.2 11 L-41.2 12.8 L-44.2 14.6 L-47.2 16.2 L-59.2 22.2 L-71.2 27.9 L-83.2 33.6 L-95.2 39.2 L-107.2 44.8 L-119.2 50.4 L-131.2 56.1 L-143.2 61.7 L-155.2 67.3 L-150 260 L1.6 260 L1.6 -339.1Z" fill="url(#tg)"/><path d="M-0.8 -339.1 L-1.3 -284 L-2.2 -239.8 L-3.2 -204.1 L-4.3 -175.3 L-5.4 -151.9 L-6.5 -132.9 L-6.9 -117.4 L-7.2 -104.8 L-7.4 -94.3 L-7.7 -85.6 L-7.9 -78.4 L-8.2 -72.4 L0.5 -72.4 L0.5 -339.1Z" fill="url(#tv)"/><path d="M-9 -12.2 L-9.2 -52.2 L-10.2 -42.2 L-11.2 -35.1 L-12.2 -29.6 L-13.2 -24.9 L-14.2 -20.9 L-15.2 -17.2 L-16.2 -14 L-17.2 -11 L-20.2 -3.6 L-23.2 2.2 L-26.2 6.8 L-29.2 10.5 L-32.2 13.7 L-35.2 16.6 L-38.2 19.1 L-41.2 21.4 L-44.2 23.6 L-47.2 25.2 L-59.2 31.2 L-71.2 36.9 L-83.2 42.6 L-95.2 48.2 L-107.2 53.8 L-119.2 59.4 L-131.2 65.1 L-143.2 70.7 L-155.2 76.3 L-150 260 L-9 260Z" fill="url(#tov)"/><path d="M0.9 -339.1 L17.3 -333.8 L17.3 260 L0.9 260Z" fill="#f9f814"/></g><g transform="translate(957.80,858.2)"><path d="M-0.8 -337.4 L-1.3 -282.7 L-2.2 -238.6 L-3.2 -203.1 L-4.4 -174.4 L-5.5 -151.2 L-6.5 -132.3 L-6.9 -116.9 L-7.2 -104.2 L-7.4 -93.8 L-7.7 -85.2 L-7.9 -78 L-8.2 -71.9 L-9.2 -55.2 L-10.2 -45.3 L-11.2 -38.4 L-12.2 -33 L-13.2 -28.5 L-14.2 -24.6 L-15.2 -21.1 L-16.2 -18 L-17.2 -15.3 L-20.2 -8.4 L-23.2 -3.2 L-26.2 0.9 L-29.2 4.1 L-32.2 6.8 L-35.2 9.1 L-38.2 11.2 L-41.2 13 L-44.2 14.7 L-47.2 16.3 L-59.2 22.3 L-71.2 28.1 L-83.2 33.8 L-95.2 39.4 L-107.2 45.1 L-119.2 50.7 L-131.2 56.4 L-143.2 62 L-155.2 67.7 L-150 260 L1.6 260 L1.6 -337.4Z" fill="url(#tg)"/><path d="M-0.8 -337.4 L-1.3 -282.7 L-2.2 -238.6 L-3.2 -203.1 L-4.4 -174.4 L-5.5 -151.2 L-6.5 -132.3 L-6.9 -116.9 L-7.2 -104.2 L-7.4 -93.8 L-7.7 -85.2 L-7.9 -78 L-8.2 -71.9 L0.5 -71.9 L0.5 -337.4Z" fill="url(#tv)"/><path d="M-9 -11.8 L-9.2 -51.8 L-10.2 -41.7 L-11.2 -34.6 L-12.2 -29.1 L-13.2 -24.4 L-14.2 -20.3 L-15.2 -16.7 L-16.2 -13.5 L-17.2 -10.5 L-20.2 -3.1 L-23.2 2.6 L-26.2 7.1 L-29.2 10.8 L-32.2 14 L-35.2 16.8 L-38.2 19.3 L-41.2 21.6 L-44.2 23.7 L-47.2 25.3 L-59.2 31.3 L-71.2 37.1 L-83.2 42.8 L-95.2 48.4 L-107.2 54.1 L-119.2 59.7 L-131.2 65.4 L-143.2 71 L-155.2 76.7 L-150 260 L-9 260Z" fill="url(#tov)"/><path d="M0.9 -337.4 L17.4 -331.9 L17.4 260 L0.9 260Z" fill="#f9f814"/></g><g transform="translate(974.70,861.6)"><path d="M-0.8 -335.2 L-1.3 -280.9 L-2.2 -237.1 L-3.2 -201.9 L-4.4 -173.4 L-5.5 -150.3 L-6.5 -131.5 L-6.9 -116.2 L-7.2 -103.6 L-7.4 -93.2 L-7.7 -84.6 L-7.9 -77.4 L-8.2 -71.4 L-9.2 -54.8 L-10.2 -44.8 L-11.2 -37.9 L-12.2 -32.5 L-13.2 -28 L-14.2 -24.1 L-15.2 -20.6 L-16.2 -17.5 L-17.2 -14.7 L-20.2 -7.9 L-23.2 -2.8 L-26.2 1.2 L-29.2 4.4 L-32.2 7.1 L-35.2 9.3 L-38.2 11.3 L-41.2 13.2 L-44.2 14.9 L-47.2 16.5 L-59.2 22.5 L-71.2 28.2 L-83.2 33.9 L-95.2 39.6 L-107.2 45.3 L-119.2 51 L-131.2 56.7 L-143.2 62.4 L-155.2 68.1 L-150 260 L1.6 260 L1.6 -335.2Z" fill="url(#tg)"/><path d="M-0.8 -335.2 L-1.3 -280.9 L-2.2 -237.1 L-3.2 -201.9 L-4.4 -173.4 L-5.5 -150.3 L-6.5 -131.5 L-6.9 -116.2 L-7.2 -103.6 L-7.4 -93.2 L-7.7 -84.6 L-7.9 -77.4 L-8.2 -71.4 L0.5 -71.4 L0.5 -335.2Z" fill="url(#tv)"/><path d="M-9 -11.3 L-9.2 -51.3 L-10.2 -41.2 L-11.2 -34.1 L-12.2 -28.5 L-13.2 -23.9 L-14.2 -19.8 L-15.2 -16.2 L-16.2 -12.9 L-17.2 -10 L-20.2 -2.7 L-23.2 2.9 L-26.2 7.4 L-29.2 11.1 L-32.2 14.2 L-35.2 17 L-38.2 19.4 L-41.2 21.8 L-44.2 23.9 L-47.2 25.5 L-59.2 31.5 L-71.2 37.2 L-83.2 42.9 L-95.2 48.6 L-107.2 54.3 L-119.2 60 L-131.2 65.7 L-143.2 71.4 L-155.2 77.1 L-150 260 L-9 260Z" fill="url(#tov)"/><path d="M0.9 -335.2 L16.2 -329.9 L16.2 260 L0.9 260Z" fill="#f9f814"/></g><g transform="translate(990.40,877.2)"><path d="M-0.8 -345.6 L-1.3 -289.1 L-2.2 -243.6 L-3.2 -207 L-4.3 -177.4 L-5.4 -153.4 L-6.4 -133.9 L-6.9 -118 L-7.2 -105 L-7.4 -94.3 L-7.7 -85.4 L-7.9 -77.9 L-8.2 -71.7 L-9.2 -54.6 L-10.2 -44.5 L-11.2 -37.4 L-12.2 -32 L-13.2 -27.5 L-14.2 -23.6 L-15.2 -20.1 L-16.2 -17 L-17.2 -14.3 L-20.2 -7.5 L-23.2 -2.4 L-26.2 1.5 L-29.2 4.7 L-32.2 7.3 L-35.2 9.5 L-38.2 11.5 L-41.2 13.3 L-44.2 15 L-47.2 16.6 L-59.2 22.6 L-71.2 28.4 L-83.2 34.1 L-95.2 39.8 L-107.2 45.6 L-119.2 51.3 L-131.2 57 L-143.2 62.7 L-155.2 68.4 L-150 260 L1.6 260 L1.6 -345.6Z" fill="url(#tg)"/><path d="M-0.8 -345.6 L-1.3 -289.1 L-2.2 -243.6 L-3.2 -207 L-4.3 -177.4 L-5.4 -153.4 L-6.4 -133.9 L-6.9 -118 L-7.2 -105 L-7.4 -94.3 L-7.7 -85.4 L-7.9 -77.9 L-8.2 -71.7 L0.5 -71.7 L0.5 -345.6Z" fill="url(#tv)"/><path d="M-9 -11.1 L-9.2 -51.1 L-10.2 -40.8 L-11.2 -33.7 L-12.2 -28.1 L-13.2 -23.4 L-14.2 -19.3 L-15.2 -15.7 L-16.2 -12.4 L-17.2 -9.5 L-20.2 -2.3 L-23.2 3.3 L-26.2 7.7 L-29.2 11.3 L-32.2 14.4 L-35.2 17.2 L-38.2 19.6 L-41.2 21.9 L-44.2 24 L-47.2 25.6 L-59.2 31.6 L-71.2 37.4 L-83.2 43.1 L-95.2 48.8 L-107.2 54.6 L-119.2 60.3 L-131.2 66 L-143.2 71.7 L-155.2 77.4 L-150 260 L-9 260Z" fill="url(#tov)"/><path d="M0.9 -345.6 L14.9 -340.5 L14.9 260 L0.9 260Z" fill="#f9f814"/></g><g transform="translate(1004.10,885.9)"><path d="M-0.8 -349.3 L-1.3 -292 L-2.2 -245.9 L-3.2 -208.8 L-4.3 -178.8 L-5.4 -154.4 L-6.4 -134.7 L-6.9 -118.6 L-7.2 -105.4 L-7.4 -94.5 L-7.7 -85.5 L-7.9 -77.9 L-8.2 -71.6 L-9.2 -54.3 L-10.2 -44.1 L-11.2 -37 L-12.2 -31.5 L-13.2 -27 L-14.2 -23.1 L-15.2 -19.7 L-16.2 -16.6 L-17.2 -13.8 L-20.2 -7.1 L-23.2 -2.1 L-26.2 1.8 L-29.2 4.9 L-32.2 7.5 L-35.2 9.7 L-38.2 11.7 L-41.2 13.4 L-44.2 15.1 L-47.2 16.7 L-59.2 22.7 L-71.2 28.5 L-83.2 34.3 L-95.2 40 L-107.2 45.8 L-119.2 51.5 L-131.2 57.2 L-143.2 63 L-155.2 68.7 L-150 260 L2.4 260 L2.4 -349.3Z" fill="url(#tgo)"/><path d="M-0.8 -349.3 L-1.3 -292 L-2.2 -245.9 L-3.2 -208.8 L-4.3 -178.8 L-5.4 -154.4 L-6.4 -134.7 L-6.9 -118.6 L-7.2 -105.4 L-7.4 -94.5 L-7.7 -85.5 L-7.9 -77.9 L-8.2 -71.6 L0.5 -71.6 L0.5 -349.3Z" fill="url(#tv)"/><path d="M-9 -10.9 L-9.2 -50.9 L-10.2 -40.4 L-11.2 -33.2 L-12.2 -27.6 L-13.2 -22.9 L-14.2 -18.8 L-15.2 -15.2 L-16.2 -12 L-17.2 -9.1 L-20.2 -1.9 L-23.2 3.6 L-26.2 8 L-29.2 11.6 L-32.2 14.6 L-35.2 17.3 L-38.2 19.8 L-41.2 22 L-44.2 24.1 L-47.2 25.7 L-59.2 31.7 L-71.2 37.5 L-83.2 43.3 L-95.2 49 L-107.2 54.8 L-119.2 60.5 L-131.2 66.2 L-143.2 72 L-155.2 77.7 L-150 260 L-9 260Z" fill="url(#tov)"/><path d="M1.7 -349.3 L15 -344.1 L15 260 L1.7 260Z" fill="#f9f814"/></g><g transform="translate(1018.60,889.7)"><path d="M-0.8 -347.9 L-1.3 -290.8 L-2.2 -244.9 L-3.2 -207.9 L-4.3 -178 L-5.4 -153.8 L-6.4 -134.1 L-6.9 -118.1 L-7.2 -104.9 L-7.4 -94 L-7.7 -85 L-7.9 -77.5 L-8.2 -71.2 L-9.2 -53.9 L-10.2 -43.6 L-11.2 -36.5 L-12.2 -31.1 L-13.2 -26.5 L-14.2 -22.6 L-15.2 -19.2 L-16.2 -16.1 L-17.2 -13.4 L-20.2 -6.7 L-23.2 -1.8 L-26.2 2.1 L-29.2 5.1 L-32.2 7.7 L-35.2 9.9 L-38.2 11.8 L-41.2 13.6 L-44.2 15.2 L-47.2 16.8 L-59.2 22.9 L-71.2 28.7 L-83.2 34.5 L-95.2 40.2 L-107.2 46 L-119.2 51.7 L-131.2 57.5 L-143.2 63.3 L-155.2 69 L-150 260 L1.6 260 L1.6 -347.9Z" fill="url(#tg)"/><path d="M-0.8 -347.9 L-1.3 -290.8 L-2.2 -244.9 L-3.2 -207.9 L-4.3 -178 L-5.4 -153.8 L-6.4 -134.1 L-6.9 -118.1 L-7.2 -104.9 L-7.4 -94 L-7.7 -85 L-7.9 -77.5 L-8.2 -71.2 L0.5 -71.2 L0.5 -347.9Z" fill="url(#tv)"/><path d="M-9 -10.4 L-9.2 -50.4 L-10.2 -40 L-11.2 -32.7 L-12.2 -27.1 L-13.2 -22.4 L-14.2 -18.4 L-15.2 -14.8 L-16.2 -11.5 L-17.2 -8.6 L-20.2 -1.5 L-23.2 4 L-26.2 8.3 L-29.2 11.8 L-32.2 14.8 L-35.2 17.5 L-38.2 19.9 L-41.2 22.2 L-44.2 24.2 L-47.2 25.8 L-59.2 31.9 L-71.2 37.7 L-83.2 43.5 L-95.2 49.2 L-107.2 55 L-119.2 60.7 L-131.2 66.5 L-143.2 72.3 L-155.2 78 L-150 260 L-9 260Z" fill="url(#tov)"/><path d="M0.9 -347.9 L16.2 -342.1 L16.2 260 L0.9 260Z" fill="#f9f814"/></g><g transform="translate(1034.30,876.3)"><path d="M-0.8 -328.6 L-1.3 -275.5 L-2.2 -232.6 L-3.3 -198.1 L-4.4 -170.1 L-5.6 -147.5 L-6.7 -129 L-6.9 -113.9 L-7.2 -101.5 L-7.4 -91.2 L-7.7 -82.7 L-7.9 -75.6 L-8.2 -69.6 L-9.2 -52.9 L-10.2 -42.9 L-11.2 -35.9 L-12.2 -30.5 L-13.2 -26 L-14.2 -22.1 L-15.2 -18.7 L-16.2 -15.6 L-17.2 -12.9 L-20.2 -6.3 L-23.2 -1.4 L-26.2 2.4 L-29.2 5.4 L-32.2 7.9 L-35.2 10 L-38.2 12 L-41.2 13.7 L-44.2 15.4 L-47.2 17 L-59.2 23 L-71.2 28.8 L-83.2 34.6 L-95.2 40.4 L-107.2 46.2 L-119.2 52 L-131.2 57.8 L-143.2 63.6 L-155.2 69.4 L-150 260 L1.6 260 L1.6 -328.6Z" fill="url(#tg)"/><path d="M-0.8 -328.6 L-1.3 -275.5 L-2.2 -232.6 L-3.3 -198.1 L-4.4 -170.1 L-5.6 -147.5 L-6.7 -129 L-6.9 -113.9 L-7.2 -101.5 L-7.4 -91.2 L-7.7 -82.7 L-7.9 -75.6 L-8.2 -69.6 L0.5 -69.6 L0.5 -328.6Z" fill="url(#tv)"/><path d="M-9 -9.5 L-9.2 -49.5 L-10.2 -39.3 L-11.2 -32.1 L-12.2 -26.6 L-13.2 -21.9 L-14.2 -17.8 L-15.2 -14.2 L-16.2 -11 L-17.2 -8.2 L-20.2 -1.1 L-23.2 4.3 L-26.2 8.6 L-29.2 12.1 L-32.2 15 L-35.2 17.7 L-38.2 20.1 L-41.2 22.3 L-44.2 24.4 L-47.2 26 L-59.2 32 L-71.2 37.8 L-83.2 43.6 L-95.2 49.4 L-107.2 55.2 L-119.2 61 L-131.2 66.8 L-143.2 72.6 L-155.2 78.4 L-150 260 L-9 260Z" fill="url(#tov)"/><path d="M0.9 -328.6 L16.2 -322.7 L16.2 260 L0.9 260Z" fill="#f9f814"/></g><g transform="translate(1050.00,879.8)"><path d="M-0.8 -326.3 L-1.3 -273.5 L-2.2 -231 L-3.3 -196.8 L-4.5 -169 L-5.6 -146.5 L-6.7 -128.1 L-6.9 -113.1 L-7.2 -100.8 L-7.4 -90.6 L-7.7 -82.1 L-7.9 -75 L-8.2 -69 L-9.2 -52.4 L-10.2 -42.4 L-11.2 -35.4 L-12.2 -30 L-13.2 -25.4 L-14.2 -21.6 L-15.2 -18.1 L-16.2 -15.1 L-17.2 -12.4 L-20.2 -5.9 L-23.2 -1.1 L-26.2 2.7 L-29.2 5.6 L-32.2 8.1 L-35.2 10.2 L-38.2 12.1 L-41.2 13.9 L-44.2 15.5 L-47.2 17.1 L-59.2 23.1 L-71.2 29 L-83.2 34.8 L-95.2 40.6 L-107.2 46.5 L-119.2 52.3 L-131.2 58.1 L-143.2 63.9 L-155.2 69.7 L-150 260 L1.6 260 L1.6 -326.3Z" fill="url(#tg)"/><path d="M-0.8 -326.3 L-1.3 -273.5 L-2.2 -231 L-3.3 -196.8 L-4.5 -169 L-5.6 -146.5 L-6.7 -128.1 L-6.9 -113.1 L-7.2 -100.8 L-7.4 -90.6 L-7.7 -82.1 L-7.9 -75 L-8.2 -69 L0.5 -69 L0.5 -326.3Z" fill="url(#tv)"/><path d="M-9 -9 L-9.2 -49 L-10.2 -38.8 L-11.2 -31.6 L-12.2 -26 L-13.2 -21.3 L-14.2 -17.3 L-15.2 -13.7 L-16.2 -10.5 L-17.2 -7.7 L-20.2 -0.7 L-23.2 4.7 L-26.2 8.9 L-29.2 12.3 L-32.2 15.2 L-35.2 17.8 L-38.2 20.2 L-41.2 22.4 L-44.2 24.5 L-47.2 26.1 L-59.2 32.1 L-71.2 38 L-83.2 43.8 L-95.2 49.6 L-107.2 55.5 L-119.2 61.3 L-131.2 67.1 L-143.2 72.9 L-155.2 78.7 L-150 260 L-9 260Z" fill="url(#tov)"/><path d="M0.9 -326.3 L15 -320.7 L15 260 L0.9 260Z" fill="#f9f814"/></g><g transform="translate(1064.50,890)"><path d="M-0.8 -330.8 L-1.3 -277.1 L-2.2 -233.9 L-3.3 -198.9 L-4.4 -170.7 L-5.6 -147.8 L-6.6 -129.1 L-6.9 -113.8 L-7.2 -101.2 L-7.4 -90.9 L-7.7 -82.2 L-7.9 -75 L-8.2 -68.9 L-9.2 -52.1 L-10.2 -42 L-11.2 -34.9 L-12.2 -29.5 L-13.2 -24.9 L-14.2 -21.1 L-15.2 -17.7 L-16.2 -14.7 L-17.2 -12 L-20.2 -5.5 L-23.2 -0.7 L-26.2 2.9 L-29.2 5.8 L-32.2 8.3 L-35.2 10.4 L-38.2 12.2 L-41.2 14 L-44.2 15.6 L-47.2 17.2 L-59.2 23.3 L-71.2 29.1 L-83.2 35 L-95.2 40.8 L-107.2 46.7 L-119.2 52.5 L-131.2 58.4 L-143.2 64.2 L-155.2 70 L-150 260 L1.6 260 L1.6 -330.8Z" fill="url(#tg)"/><path d="M-0.8 -330.8 L-1.3 -277.1 L-2.2 -233.9 L-3.3 -198.9 L-4.4 -170.7 L-5.6 -147.8 L-6.6 -129.1 L-6.9 -113.8 L-7.2 -101.2 L-7.4 -90.9 L-7.7 -82.2 L-7.9 -75 L-8.2 -68.9 L0.5 -68.9 L0.5 -330.8Z" fill="url(#tv)"/><path d="M-9 -8.6 L-9.2 -48.6 L-10.2 -38.3 L-11.2 -31.1 L-12.2 -25.5 L-13.2 -20.8 L-14.2 -16.8 L-15.2 -13.2 L-16.2 -10.1 L-17.2 -7.2 L-20.2 -0.3 L-23.2 5 L-26.2 9.1 L-29.2 12.5 L-32.2 15.4 L-35.2 18 L-38.2 20.4 L-41.2 22.6 L-44.2 24.6 L-47.2 26.2 L-59.2 32.3 L-71.2 38.1 L-83.2 44 L-95.2 49.8 L-107.2 55.7 L-119.2 61.5 L-131.2 67.4 L-143.2 73.2 L-155.2 79 L-150 260 L-9 260Z" fill="url(#tov)"/><path d="M0.9 -330.8 L17.3 -324.2 L17.3 260 L0.9 260Z" fill="#f9f814"/></g><g transform="translate(1081.30,892.7)"><path d="M-0.8 -326.8 L-1.3 -273.9 L-2.2 -231.2 L-3.3 -196.8 L-4.5 -168.9 L-5.6 -146.2 L-6.7 -127.8 L-6.9 -112.7 L-7.2 -100.3 L-7.4 -90 L-7.7 -81.4 L-7.9 -74.3 L-8.2 -68.2 L-9.2 -51.5 L-10.2 -41.4 L-11.2 -34.3 L-12.2 -28.9 L-13.2 -24.3 L-14.2 -20.5 L-15.2 -17.1 L-16.2 -14.1 L-17.2 -11.5 L-20.2 -5.1 L-23.2 -0.4 L-26.2 3.2 L-29.2 6.1 L-32.2 8.5 L-35.2 10.5 L-38.2 12.4 L-41.2 14.1 L-44.2 15.8 L-47.2 17.3 L-59.2 23.4 L-71.2 29.3 L-83.2 35.2 L-95.2 41 L-107.2 46.9 L-119.2 52.8 L-131.2 58.7 L-143.2 64.5 L-155.2 70.4 L-150 260 L2.4 260 L2.4 -326.8Z" fill="url(#tgo)"/><path d="M-0.8 -326.8 L-1.3 -273.9 L-2.2 -231.2 L-3.3 -196.8 L-4.5 -168.9 L-5.6 -146.2 L-6.7 -127.8 L-6.9 -112.7 L-7.2 -100.3 L-7.4 -90 L-7.7 -81.4 L-7.9 -74.3 L-8.2 -68.2 L0.5 -68.2 L0.5 -326.8Z" fill="url(#tv)"/><path d="M-9 -8 L-9.2 -48 L-10.2 -37.7 L-11.2 -30.5 L-12.2 -24.9 L-13.2 -20.2 L-14.2 -16.2 L-15.2 -12.7 L-16.2 -9.5 L-17.2 -6.7 L-20.2 0.2 L-23.2 5.3 L-26.2 9.4 L-29.2 12.8 L-32.2 15.6 L-35.2 18.2 L-38.2 20.5 L-41.2 22.7 L-44.2 24.8 L-47.2 26.3 L-59.2 32.4 L-71.2 38.3 L-83.2 44.2 L-95.2 50 L-107.2 55.9 L-119.2 61.8 L-131.2 67.7 L-143.2 73.5 L-155.2 79.4 L-150 260 L-9 260Z" fill="url(#tov)"/><path d="M1.7 -326.8 L15 -320.9 L15 260 L1.7 260Z" fill="#f9f814"/></g><g transform="translate(1095.80,912.9)"><path d="M-0.8 -341.2 L-1.3 -285.3 L-2.2 -240.2 L-3.3 -203.9 L-4.4 -174.5 L-5.5 -150.6 L-6.6 -131.2 L-6.9 -115.3 L-7.2 -102.3 L-7.4 -91.5 L-7.7 -82.6 L-7.9 -75.1 L-8.2 -68.8 L-9.2 -51.4 L-10.2 -41 L-11.2 -33.9 L-12.2 -28.4 L-13.2 -23.8 L-14.2 -20 L-15.2 -16.6 L-16.2 -13.6 L-17.2 -11 L-20.2 -4.7 L-23.2 -0 L-26.2 3.5 L-29.2 6.3 L-32.2 8.6 L-35.2 10.7 L-38.2 12.5 L-41.2 14.2 L-44.2 15.9 L-47.2 17.5 L-59.2 23.5 L-71.2 29.4 L-83.2 35.3 L-95.2 41.2 L-107.2 47.1 L-119.2 53 L-131.2 58.9 L-143.2 64.8 L-155.2 70.7 L-150 260 L1.6 260 L1.6 -341.2Z" fill="url(#tg)"/><path d="M-0.8 -341.2 L-1.3 -285.3 L-2.2 -240.2 L-3.3 -203.9 L-4.4 -174.5 L-5.5 -150.6 L-6.6 -131.2 L-6.9 -115.3 L-7.2 -102.3 L-7.4 -91.5 L-7.7 -82.6 L-7.9 -75.1 L-8.2 -68.8 L0.5 -68.8 L0.5 -341.2Z" fill="url(#tv)"/><path d="M-9 -7.9 L-9.2 -47.9 L-10.2 -37.4 L-11.2 -30.1 L-12.2 -24.4 L-13.2 -19.7 L-14.2 -15.7 L-15.2 -12.2 L-16.2 -9 L-17.2 -6.2 L-20.2 0.6 L-23.2 5.7 L-26.2 9.7 L-29.2 13 L-32.2 15.8 L-35.2 18.3 L-38.2 20.6 L-41.2 22.8 L-44.2 24.9 L-47.2 26.5 L-59.2 32.5 L-71.2 38.4 L-83.2 44.3 L-95.2 50.2 L-107.2 56.1 L-119.2 62 L-131.2 67.9 L-143.2 73.8 L-155.2 79.7 L-150 260 L-9 260Z" fill="url(#tov)"/><path d="M0.9 -341.2 L16.2 -334.7 L16.2 260 L0.9 260Z" fill="#f9f814"/></g><g transform="translate(1111.50,918.6)"><path d="M-0.8 -340.4 L-1.3 -284.5 L-2.2 -239.6 L-3.3 -203.3 L-4.4 -174 L-5.5 -150.1 L-6.6 -130.7 L-6.9 -114.9 L-7.2 -101.8 L-7.4 -91 L-7.7 -82.1 L-7.9 -74.6 L-8.2 -68.3 L-9.2 -50.9 L-10.2 -40.5 L-11.2 -33.3 L-12.2 -27.8 L-13.2 -23.3 L-14.2 -19.4 L-15.2 -16 L-16.2 -13.1 L-17.2 -10.5 L-20.2 -4.3 L-23.2 0.3 L-26.2 3.8 L-29.2 6.5 L-32.2 8.8 L-35.2 10.8 L-38.2 12.7 L-41.2 14.4 L-44.2 16 L-47.2 17.6 L-59.2 23.6 L-71.2 29.6 L-83.2 35.5 L-95.2 41.4 L-107.2 47.4 L-119.2 53.3 L-131.2 59.2 L-143.2 65.2 L-155.2 71.1 L-150 260 L1.6 260 L1.6 -340.4Z" fill="url(#tg)"/><path d="M-0.8 -340.4 L-1.3 -284.5 L-2.2 -239.6 L-3.3 -203.3 L-4.4 -174 L-5.5 -150.1 L-6.6 -130.7 L-6.9 -114.9 L-7.2 -101.8 L-7.4 -91 L-7.7 -82.1 L-7.9 -74.6 L-8.2 -68.3 L0.5 -68.3 L0.5 -340.4Z" fill="url(#tv)"/><path d="M-9 -7.4 L-9.2 -47.4 L-10.2 -36.8 L-11.2 -29.5 L-12.2 -23.8 L-13.2 -19.1 L-14.2 -15.1 L-15.2 -11.6 L-16.2 -8.5 L-17.2 -5.7 L-20.2 1 L-23.2 6 L-26.2 9.9 L-29.2 13.2 L-32.2 16 L-35.2 18.5 L-38.2 20.8 L-41.2 23 L-44.2 25 L-47.2 26.6 L-59.2 32.6 L-71.2 38.6 L-83.2 44.5 L-95.2 50.4 L-107.2 56.4 L-119.2 62.3 L-131.2 68.2 L-143.2 74.2 L-155.2 80.1 L-150 260 L-9 260Z" fill="url(#tov)"/><path d="M0.9 -340.4 L17.4 -333.1 L17.4 260 L0.9 260Z" fill="#f9f814"/></g><g transform="translate(1128.40,927.3)"><path d="M-0.8 -341.8 L-1.3 -285.7 L-2.2 -240.4 L-3.3 -203.9 L-4.4 -174.3 L-5.5 -150.4 L-6.6 -130.8 L-6.9 -114.8 L-7.2 -101.7 L-7.4 -90.8 L-7.7 -81.8 L-7.9 -74.3 L-8.2 -67.9 L-9.2 -50.4 L-10.2 -39.9 L-11.2 -32.7 L-12.2 -27.1 L-13.2 -22.6 L-14.2 -18.8 L-15.2 -15.4 L-16.2 -12.5 L-17.2 -10 L-20.2 -3.8 L-23.2 0.6 L-26.2 4 L-29.2 6.7 L-32.2 9 L-35.2 11 L-38.2 12.8 L-41.2 14.5 L-44.2 16.1 L-47.2 17.7 L-59.2 23.8 L-71.2 29.8 L-83.2 35.7 L-95.2 41.7 L-107.2 47.6 L-119.2 53.6 L-131.2 59.5 L-143.2 65.5 L-155.2 71.5 L-150 260 L1.6 260 L1.6 -341.8Z" fill="url(#tg)"/><path d="M-0.8 -341.8 L-1.3 -285.7 L-2.2 -240.4 L-3.3 -203.9 L-4.4 -174.3 L-5.5 -150.4 L-6.6 -130.8 L-6.9 -114.8 L-7.2 -101.7 L-7.4 -90.8 L-7.7 -81.8 L-7.9 -74.3 L-8.2 -67.9 L0.5 -67.9 L0.5 -341.8Z" fill="url(#tv)"/><path d="M-9 -6.9 L-9.2 -46.9 L-10.2 -36.3 L-11.2 -28.9 L-12.2 -23.2 L-13.2 -18.5 L-14.2 -14.5 L-15.2 -11 L-16.2 -7.9 L-17.2 -5.2 L-20.2 1.4 L-23.2 6.4 L-26.2 10.2 L-29.2 13.4 L-32.2 16.2 L-35.2 18.6 L-38.2 20.9 L-41.2 23.1 L-44.2 25.1 L-47.2 26.7 L-59.2 32.8 L-71.2 38.8 L-83.2 44.7 L-95.2 50.7 L-107.2 56.6 L-119.2 62.6 L-131.2 68.5 L-143.2 74.5 L-155.2 80.5 L-150 260 L-9 260Z" fill="url(#tov)"/><path d="M0.9 -341.8 L25.8 -330.7 L25.8 260 L0.9 260Z" fill="#f9f814"/></g><g transform="translate(1153.70,928.6)"><path d="M-0.8 -332 L-1.3 -277.7 L-2.2 -234 L-3.3 -198.7 L-4.5 -170.1 L-5.6 -146.8 L-6.7 -127.8 L-6.9 -112.3 L-7.2 -99.5 L-7.4 -88.9 L-7.7 -80.1 L-7.9 -72.7 L-8.2 -66.5 L-9.2 -49.3 L-10.2 -38.9 L-11.2 -31.7 L-12.2 -26.2 L-13.2 -21.7 L-14.2 -17.9 L-15.2 -14.6 L-16.2 -11.7 L-17.2 -9.2 L-20.2 -3.2 L-23.2 1.2 L-26.2 4.5 L-29.2 7.1 L-32.2 9.3 L-35.2 11.2 L-38.2 13 L-41.2 14.7 L-44.2 16.3 L-47.2 17.9 L-59.2 24 L-71.2 30 L-83.2 36 L-95.2 42 L-107.2 48 L-119.2 54 L-131.2 60 L-143.2 66 L-155.2 72 L-150 260 L1.6 260 L1.6 -332Z" fill="url(#tg)"/><path d="M-0.8 -332 L-1.3 -277.7 L-2.2 -234 L-3.3 -198.7 L-4.5 -170.1 L-5.6 -146.8 L-6.7 -127.8 L-6.9 -112.3 L-7.2 -99.5 L-7.4 -88.9 L-7.7 -80.1 L-7.9 -72.7 L-8.2 -66.5 L0.5 -66.5 L0.5 -332Z" fill="url(#tv)"/><path d="M-9 -5.8 L-9.2 -45.8 L-10.2 -35.2 L-11.2 -27.9 L-12.2 -22.2 L-13.2 -17.6 L-14.2 -13.6 L-15.2 -10.1 L-16.2 -7.1 L-17.2 -4.4 L-20.2 2.1 L-23.2 6.9 L-26.2 10.6 L-29.2 13.8 L-32.2 16.4 L-35.2 18.9 L-38.2 21.1 L-41.2 23.3 L-44.2 25.3 L-47.2 26.9 L-59.2 33 L-71.2 39 L-83.2 45 L-95.2 51 L-107.2 57 L-119.2 63 L-131.2 69 L-143.2 75 L-155.2 81 L-150 260 L-9 260Z" fill="url(#tov)"/><path d="M0.9 -332 L15.8 -324.8 L15.6 -228.6 L14.4 17.1 L9.9 18.6 L0.9 22.9Z" fill="#f9f814"/></g><path d="M600 823.3 L1109.9 1000 L1150 985 L1150 925 L1109.9 943 L600 765.3Z" fill="url(#fd)"/></g>
<path d="M287.3 331.9 L329.6 309.5 L338.1 316 L380 337.2 L540.5 416.8 L550 424.5 L559.5 439 L566 452 L571.9 465.7 L582 492.4 L594.5 527.3 L617 600 L626 620 L635.6 637.8 L646 658.6 L663 684.6 L676 698.5 L690.3 710.7 L680.7 718.4 L664.3 739 L643.7 765.6 L630 779 L620 786.5 L607 788.4 L593.6 787.7 L569.2 783.6 L500 764 L380 726.5 L345 714 L285.6 694.8Z" fill="url(#slab)"/>
<path d="M1168.2 748 L1185 817 L1189 842 L1193 861 L1195.8 880 L1202 891 L1210.5 898.7 L1221.3 905.4 L1199.7 900.5 L1168.2 892Z" fill="url(#wb)"/>
<path d="M1168.2 636 L1181 715 L1183 765 L1185.2 819 L1168.2 752Z" fill="url(#wt)"/>
<path d="M1168.2 603.7 L1177.8 607.8 L1179.5 665 L1181.2 717 L1168.2 637Z" fill="url(#wo)"/>
<g stroke="#3c3c3c" stroke-width="2.1" stroke-linecap="butt" fill="none"><line x1="162" y1="763.3" x2="162" y2="401"/><line x1="162" y1="763.3" x2="1029.6" y2="1052.9"/><line x1="1029.6" y1="1052.9" x2="1705" y2="683.3"/><line x1="162" y1="763.3" x2="140.9" y2="775"/><line x1="451.2" y1="859.8" x2="430.1" y2="871.5"/><line x1="740.4" y1="956.4" x2="719.3" y2="968.1"/><line x1="1029.6" y1="1052.9" x2="1008.5" y2="1064.6"/><line x1="1029.6" y1="1052.9" x2="1051" y2="1060.4"/><line x1="1114" y1="1006.7" x2="1135.4" y2="1014.2"/><line x1="1198.4" y1="960.5" x2="1219.8" y2="968"/><line x1="1282.9" y1="914.3" x2="1304.3" y2="921.8"/><line x1="1367.3" y1="868.1" x2="1388.7" y2="875.6"/><line x1="1451.7" y1="821.9" x2="1473.1" y2="829.4"/><line x1="1536.2" y1="775.7" x2="1557.6" y2="783.2"/><line x1="1620.6" y1="729.5" x2="1642" y2="737"/><line x1="1705" y1="683.3" x2="1726.4" y2="690.8"/><line x1="162" y1="763.3" x2="139.7" y2="755.5"/><line x1="162" y1="672.7" x2="139.7" y2="664.9"/><line x1="162" y1="582.1" x2="139.7" y2="574.4"/><line x1="162" y1="491.6" x2="139.7" y2="483.8"/><line x1="162" y1="401" x2="139.7" y2="393.2"/></g>
<g font-family="'Liberation Sans', Arial, sans-serif" fill="#3f3f3f"><text x="128.3" y="765.5" text-anchor="end" font-size="28.5">0</text><text x="128.3" y="674.9" text-anchor="end" font-size="28.5">0.05</text><text x="128.3" y="584.4" text-anchor="end" font-size="28.5">0.1</text><text x="128.3" y="493.8" text-anchor="end" font-size="28.5">0.15</text><text x="128.3" y="403.2" text-anchor="end" font-size="28.5">0.2</text><text x="122" y="811.4" text-anchor="middle" font-size="28.5">0</text><text x="402.7" y="906.7" text-anchor="middle" font-size="28.5">50</text><text x="686" y="1003.4" text-anchor="middle" font-size="28.5">100</text><text x="976.3" y="1100" text-anchor="middle" font-size="28.5">150</text><text x="1089" y="1093.7" text-anchor="middle" font-size="28.5">-400</text><text x="1173.5" y="1047.9" text-anchor="middle" font-size="28.5">-200</text><text x="1237.2" y="1002.3" text-anchor="middle" font-size="28.5">0</text><text x="1337.9" y="954.9" text-anchor="middle" font-size="28.5">200</text><text x="1422.6" y="909.3" text-anchor="middle" font-size="28.5">400</text><text x="1507" y="862.4" text-anchor="middle" font-size="28.5">600</text><text x="1592" y="816" text-anchor="middle" font-size="28.5">800</text><text x="1684.8" y="770.3" text-anchor="middle" font-size="28.5">1000</text><text x="1770" y="724.5" text-anchor="middle" font-size="28.5">1200</text></g>
<g font-family="'Liberation Serif', 'Times New Roman', serif" fill="#2b2b2b" font-size="52.6"><text x="481.3" y="1034.8" text-anchor="middle">Time (s)</text><text x="1488.8" y="1016.6" text-anchor="middle">Distance (m)</text><text transform="translate(55.2,582.8) rotate(-90)" text-anchor="middle" font-size="52.3">Normalized density</text></g>
<text transform="translate(980.3,1201) scale(0.955,1)" text-anchor="middle" font-family="'Liberation Serif', serif" font-weight="bold" font-size="84" fill="#111">(c)</text>
<rect x="1819.3" y="30.3" width="43.3" height="1019.3" fill="url(#cb)" stroke="#3a3a3a" stroke-width="1.8"/>
<g stroke="#3a3a3a" stroke-width="1.8"><line x1="1853.1" y1="131.8" x2="1862.6" y2="131.8"/><line x1="1853.1" y1="234.4" x2="1862.6" y2="234.4"/><line x1="1853.1" y1="337" x2="1862.6" y2="337"/><line x1="1853.1" y1="439.6" x2="1862.6" y2="439.6"/><line x1="1853.1" y1="542.2" x2="1862.6" y2="542.2"/><line x1="1853.1" y1="644.8" x2="1862.6" y2="644.8"/><line x1="1853.1" y1="747.4" x2="1862.6" y2="747.4"/><line x1="1853.1" y1="850" x2="1862.6" y2="850"/><line x1="1853.1" y1="952.6" x2="1862.6" y2="952.6"/></g>
<g font-family="'Liberation Sans', Arial, sans-serif" fill="#3f3f3f"><text x="1874.3" y="40.5" text-anchor="start" font-size="25">0.2</text><text x="1874.3" y="143.1" text-anchor="start" font-size="25">0.18</text><text x="1874.3" y="245.7" text-anchor="start" font-size="25">0.16</text><text x="1874.3" y="348.3" text-anchor="start" font-size="25">0.14</text><text x="1874.3" y="450.9" text-anchor="start" font-size="25">0.12</text><text x="1874.3" y="553.5" text-anchor="start" font-size="25">0.1</text><text x="1874.3" y="656.1" text-anchor="start" font-size="25">0.08</text><text x="1874.3" y="758.7" text-anchor="start" font-size="25">0.06</text><text x="1874.3" y="861.3" text-anchor="start" font-size="25">0.04</text><text x="1874.3" y="963.9" text-anchor="start" font-size="25">0.02</text></g>
</svg>
</body></html>
